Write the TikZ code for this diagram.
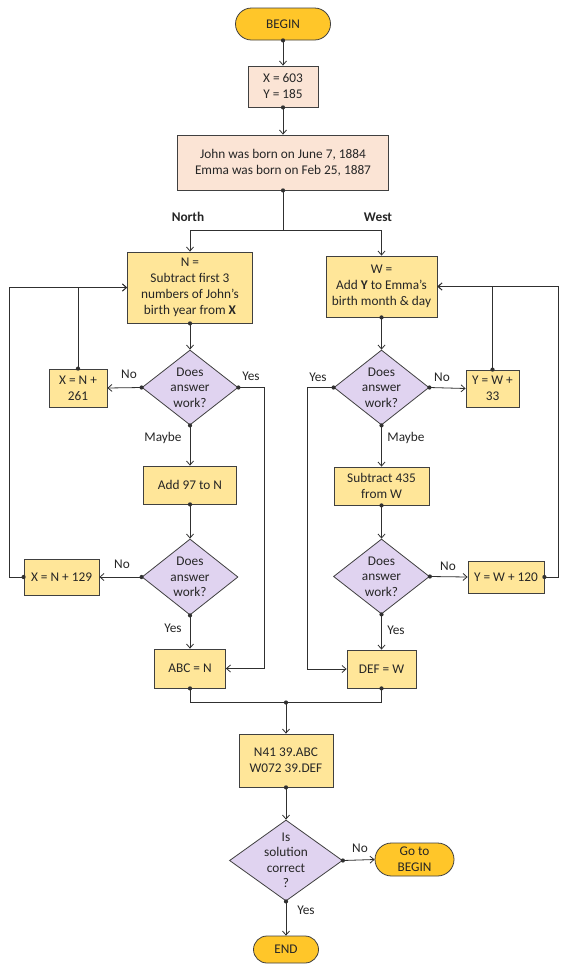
\documentclass[tikz,border=0pt]{standalone}
\usepackage{fontspec}
\setmainfont{Carlito}
\usetikzlibrary{shapes.geometric,arrows.meta,calc}
\definecolor{termc}{HTML}{FFC629}
\definecolor{ybox}{HTML}{FFE699}
\definecolor{peach}{HTML}{FBE4D5}
\definecolor{purp}{HTML}{E0D3F0}
\definecolor{bordc}{HTML}{404040}
\definecolor{linec}{HTML}{303030}
\newcommand\dotat[1]{\fill[linec] (#1) circle (2.1pt);}
\begin{document}
\begin{tikzpicture}[x=1pt,y=-1pt,
  font=\fontsize{13.3}{16}\selectfont,
  box/.style={draw=bordc, line width=0.8pt, fill=ybox, align=center, inner sep=0pt, text=black!85},
  term/.style={draw=bordc, line width=0.8pt, fill=termc, align=center, inner sep=0pt, text=black!85},
  diam/.style={diamond, draw=bordc, line width=0.8pt, fill=purp, inner sep=0pt},
  dtext/.style={align=center, text=black!85, font=\fontsize{13.3}{15.5}\selectfont},
  lbl/.style={inner sep=0pt, text=black!85},
  conn/.style={draw=linec, line width=0.8pt, -{Straight Barb[length=4pt,width=7pt]}},
  plain/.style={draw=linec, line width=0.8pt}]
\useasboundingbox (0,0) rectangle (568,975);
\fill[white] (0,0) rectangle (568,975);

% nodes
\node[term, minimum width=95pt, minimum height=32pt, rounded corners=16pt] (begin) at (283,24) {BEGIN};
\node[box, fill=peach, minimum width=70pt, minimum height=41pt] (xy) at (283,86.5) {X = 603\\Y = 185};
\node[box, fill=peach, minimum width=211pt, minimum height=55pt] (john) at (283,162.5) {John was born on June 7, 1884\\Emma was born on Feb 25, 1887};
\node[lbl, font=\fontsize{13.3}{16}\selectfont\bfseries] (north) at (188,217) {North};
\node[lbl, font=\fontsize{13.3}{16}\selectfont\bfseries] (west) at (378,217) {West};

\node[box, minimum width=125pt, minimum height=71pt] (nbox) at (190,287.5) {N =\\Subtract first 3\\numbers of John’s\\birth year from \textbf{X}};
\node[box, minimum width=111pt, minimum height=61pt] (wbox) at (381.5,286.5) {W =\\Add \textbf{Y} to Emma’s\\birth month \& day};

\node[diam, minimum width=96pt, minimum height=75pt, label={[dtext, name=d1t]center:Does\\answer\\work?}] (d1) at (190,387.5) {};
\node[box, minimum width=58pt, minimum height=38pt] (x261) at (78,388) {X = N +\\261};
\node[diam, minimum width=95pt, minimum height=75pt, label={[dtext, name=r1t]center:Does\\answer\\work?}] (r1) at (381.5,387.5) {};
\node[box, minimum width=53pt, minimum height=37pt] (y33) at (492.5,388.5) {Y = W +\\33};

\node[box, minimum width=93pt, minimum height=38pt] (add97) at (190,485) {Add 97 to N};
\node[box, minimum width=95pt, minimum height=38pt] (sub435) at (381.5,486) {Subtract 435\\from W};

\node[diam, minimum width=96pt, minimum height=76pt, label={[dtext, name=d2t]center:Does\\answer\\work?}] (d2) at (190,577) {};
\node[box, minimum width=75pt, minimum height=36pt] (x129) at (61.5,577) {X = N + 129};
\node[diam, minimum width=96pt, minimum height=75pt, label={[dtext, name=r2t]center:Does\\answer\\work?}] (r2) at (381.5,576.5) {};
\node[box, minimum width=76pt, minimum height=32pt] (y120) at (506,577) {Y = W + 120};

\node[box, minimum width=71pt, minimum height=39pt] (abc) at (190,668.5) {ABC = N};
\node[box, minimum width=69pt, minimum height=38pt] (def) at (381.5,669) {DEF = W};

\coordinate (join) at (286,702.5);
\node[box, minimum width=94pt, minimum height=53pt] (n41) at (286,760.5) {N41 39.ABC\\W072 39.DEF};
\node[diam, minimum width=113pt, minimum height=81pt, label={[dtext, name=d3t]center:Is\\solution\\correct\\?}] (d3) at (286,860.5) {};
\node[term, minimum width=79pt, minimum height=33pt, rounded corners=16.5pt] (goto) at (414.5,859.5) {Go to\\BEGIN};
\node[term, minimum width=65pt, minimum height=27pt, rounded corners=13.5pt] (endn) at (286,949.5) {END};

% edge labels
\node[lbl] (l1no) at (129,374) {No};
\node[lbl] (l1yes) at (251,376) {Yes};
\node[lbl] (l1may) at (163,438) {Maybe};
\node[lbl] (r1yes) at (318,377) {Yes};
\node[lbl] (r1no) at (442,377) {No};
\node[lbl] (r1may) at (406,438) {Maybe};
\node[lbl] (l2no) at (122,564) {No};
\node[lbl] (l2yes) at (173,628) {Yes};
\node[lbl] (r2no) at (448,566) {No};
\node[lbl] (r2yes) at (396,630) {Yes};
\node[lbl] (d3no) at (360,848) {No};
\node[lbl] (d3yes) at (306,910) {Yes};

% connectors
\draw[conn] (begin.south) -- (xy.north);
\draw[conn] (xy.south) -- (john.north);
\coordinate (split) at (283,230);
\draw[plain] (john.south) -- (split);
\draw[conn] (split) -| (nbox.north);
\draw[conn] (split) -| (wbox.north);

% left branch
\draw[conn] (nbox.south) -- (d1.north);
\draw[conn] (d1.west) -- (x261.east);
\draw[conn] (x261.north) |- (nbox.west);
\draw[conn] (d1.east) -- ++(26,0) |- (abc.east);
\draw[conn] (d1.south) -- (add97.north);
\draw[conn] (add97.south) -- (d2.north);
\draw[conn] (d2.west) -- (x129.east);
\draw[conn] (x129.west) -- ++(-14,0) |- (nbox.west);
\draw[conn] (d2.south) -- (abc.north);

% right branch
\draw[conn] (wbox.south) -- (r1.north);
\draw[conn] (r1.east) -- (y33.west);
\draw[conn] (y33.north) |- (wbox.east);
\draw[conn] (r1.west) -- ++(-26,0) |- (def.west);
\draw[conn] (r1.south) -- (sub435.north);
\draw[conn] (sub435.south) -- (r2.north);
\draw[conn] (r2.east) -- (y120.west);
\draw[conn] (y120.east) -- ++(14,0) |- (wbox.east);
\draw[conn] (r2.south) -- (def.north);

% merge
\draw[plain] (abc.south) |- (join);
\draw[plain] (def.south) |- (join);
\draw[conn] (join) -- (n41.north);
\draw[conn] (n41.south) -- (d3.north);
\draw[conn] (d3.east) -- (goto.west);
\draw[conn] (d3.south) -- (endn.north);

% dots
\dotat{begin.south}
\dotat{xy.south}
\dotat{john.south}
\dotat{nbox.south}
\dotat{wbox.south}
\dotat{d1.west}
\dotat{d1.east}
\dotat{d1.south}
\dotat{x261.north}
\dotat{r1.west}
\dotat{r1.east}
\dotat{r1.south}
\dotat{y33.north}
\dotat{add97.south}
\dotat{sub435.south}
\dotat{d2.west}
\dotat{d2.south}
\dotat{x129.west}
\dotat{r2.east}
\dotat{r2.south}
\dotat{y120.east}
\dotat{abc.south}
\dotat{def.south}
\dotat{join}
\dotat{n41.south}
\dotat{d3.east}
\dotat{d3.south}
\end{tikzpicture}
\end{document}
